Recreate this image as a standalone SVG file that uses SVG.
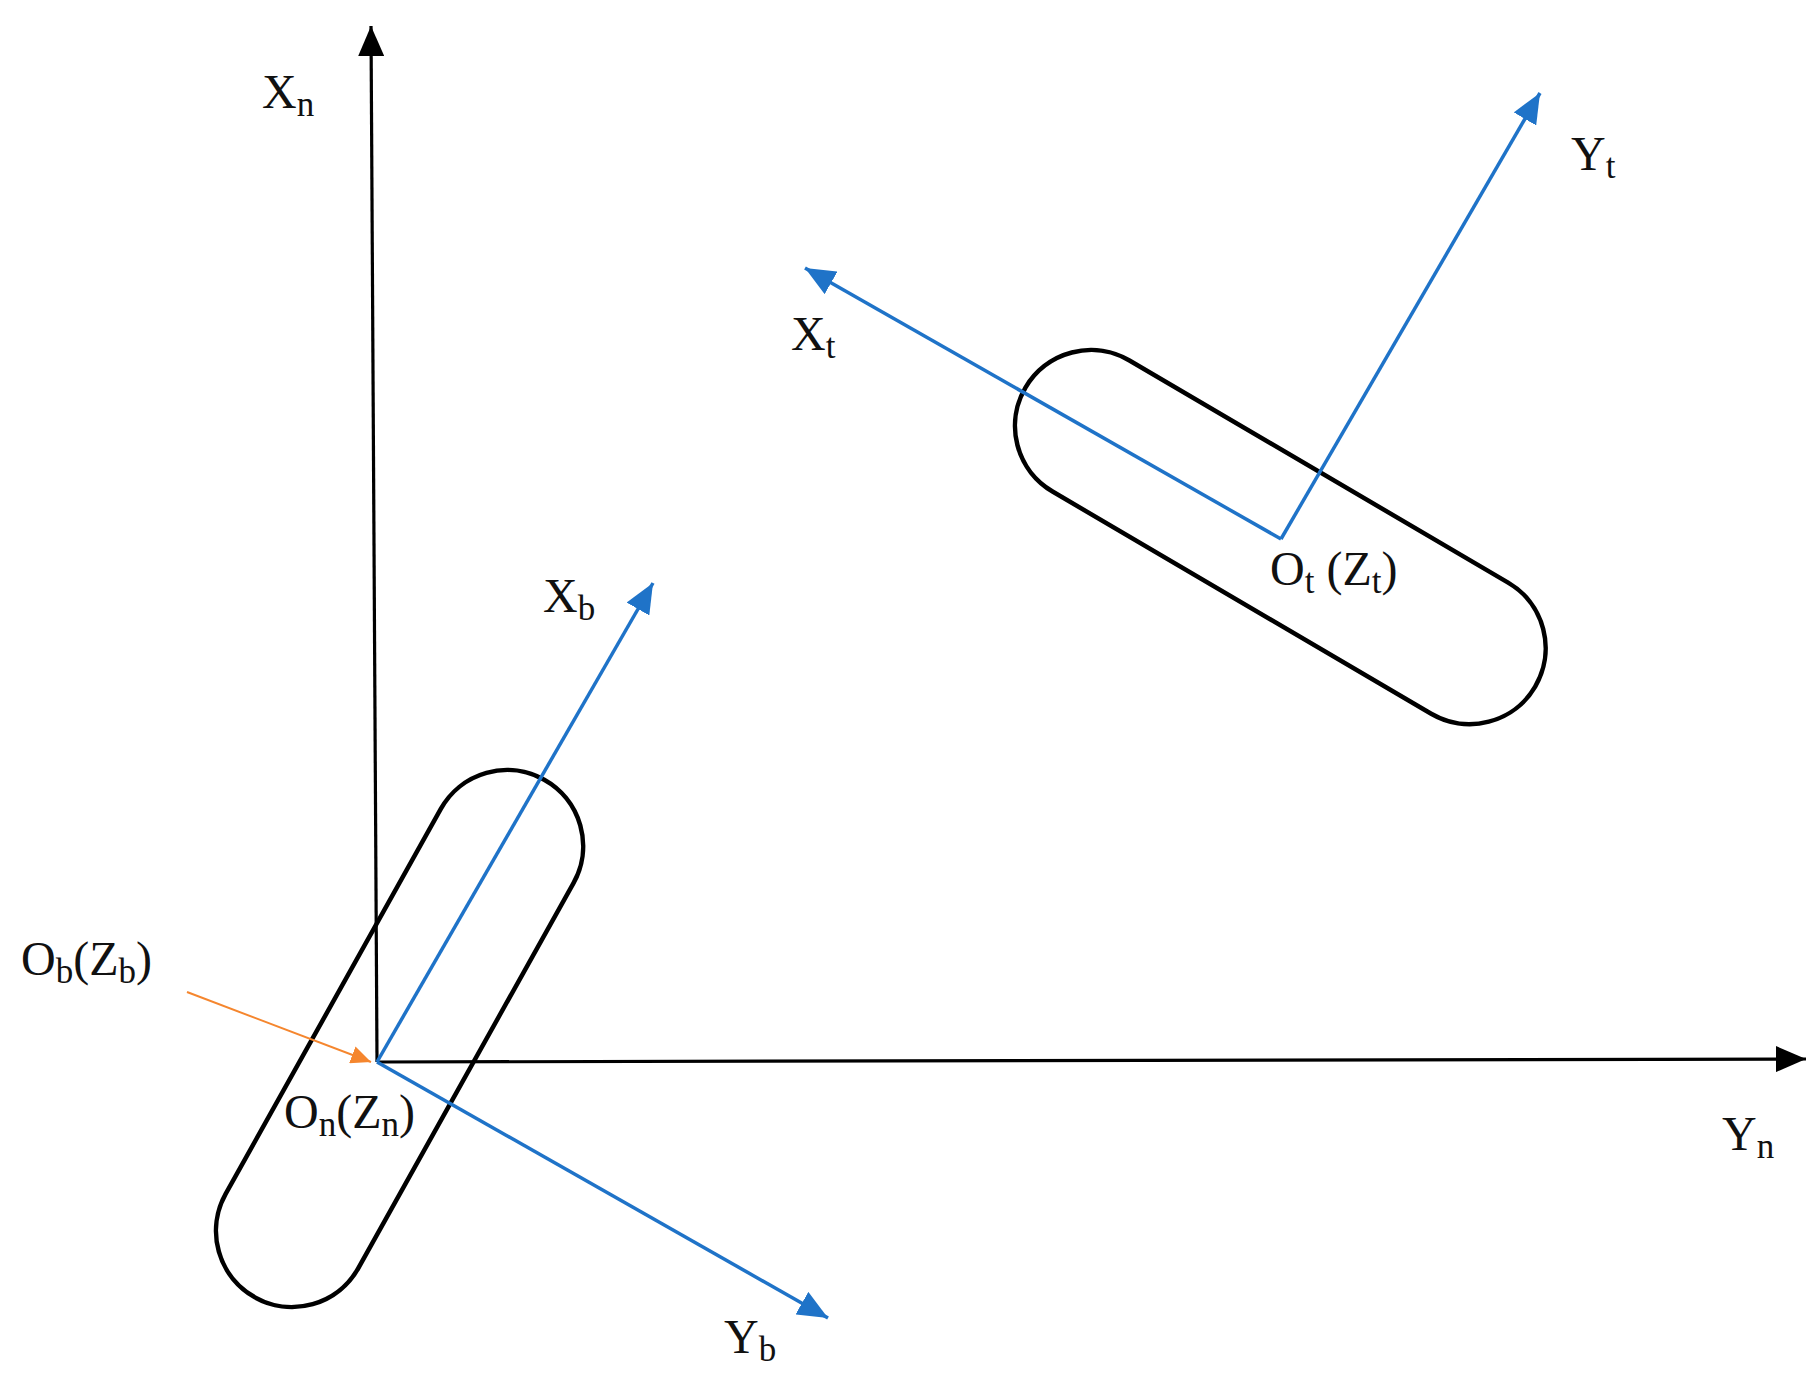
<svg xmlns="http://www.w3.org/2000/svg" width="1820" height="1389" viewBox="0 0 1820 1389">
<style>
.t{font-family:"Liberation Serif",serif;font-size:48px;fill:#111}
.s{font-size:35px}
.ax{stroke:#000;stroke-width:3.2;fill:none}
.bl{stroke:#1f73c8;stroke-width:3.5;fill:none}
.cap{stroke:#000;stroke-width:4.5;fill:none}
</style>
<defs>
<marker id="ak" markerUnits="userSpaceOnUse" markerWidth="32" markerHeight="26" refX="30" refY="13" orient="auto"><path d="M0,0 L30,13 L0,26 Z" fill="#000"/></marker>
<marker id="ab" markerUnits="userSpaceOnUse" markerWidth="32" markerHeight="26" refX="30" refY="13" orient="auto"><path d="M0,0 L30,13 L0,26 Z" fill="#1f73c8"/></marker>
<marker id="ao" markerUnits="userSpaceOnUse" markerWidth="22" markerHeight="18" refX="20" refY="9" orient="auto"><path d="M0,0 L20,9 L0,18 Z" fill="#f5862e"/></marker>
</defs>
<rect width="1820" height="1389" fill="#fff"/>
<g id="capsule-b"><path class="cap" d="M0,-76 L441,-76 A76,76 0 0 1 441,76 L0,76 A76,76 0 0 1 0,-76 Z" transform="translate(292,1231) rotate(-60.8)"/></g>
<g id="capsule-t"><path class="cap" d="M0,-76 L439,-76 A76,76 0 0 1 439,76 L0,76 A76,76 0 0 1 0,-76 Z" transform="translate(1091,426) rotate(30.4)"/></g>
<g id="connectors">
<path class="ax" d="M377,1062 L371,26" marker-end="url(#ak)"/>
<path class="ax" d="M377,1062 L1806,1059" marker-end="url(#ak)"/>
<path class="bl" d="M377,1062 L653,583" marker-end="url(#ab)"/>
<path class="bl" d="M377,1062 L828,1318" marker-end="url(#ab)"/>
<path class="bl" d="M1281,539 L805,268" marker-end="url(#ab)"/>
<path class="bl" d="M1281,539 L1540,93" marker-end="url(#ab)"/>
<path d="M187,992 L371,1062" stroke="#f5862e" stroke-width="2" marker-end="url(#ao)"/>
</g>
<g id="labels">
<text class="t" x="262" y="108">X<tspan class="s" dy="8">n</tspan></text>
<text class="t" x="1722" y="1150">Y<tspan class="s" dy="8">n</tspan></text>
<text class="t" x="543" y="612">X<tspan class="s" dy="8">b</tspan></text>
<text class="t" x="724" y="1353">Y<tspan class="s" dy="8">b</tspan></text>
<text class="t" x="791" y="350">X<tspan class="s" dy="8">t</tspan></text>
<text class="t" x="1571" y="170">Y<tspan class="s" dy="8">t</tspan></text>
<text class="t" x="1270" y="585">O<tspan class="s" dy="8">t</tspan><tspan dy="-8"> (Z</tspan><tspan class="s" dy="8">t</tspan><tspan dy="-8">)</tspan></text>
<text class="t" x="21" y="975">O<tspan class="s" dy="8">b</tspan><tspan dy="-8">(Z</tspan><tspan class="s" dy="8">b</tspan><tspan dy="-8">)</tspan></text>
<text class="t" x="284" y="1128">O<tspan class="s" dy="8">n</tspan><tspan dy="-8">(Z</tspan><tspan class="s" dy="8">n</tspan><tspan dy="-8">)</tspan></text>
</g>
</svg>
